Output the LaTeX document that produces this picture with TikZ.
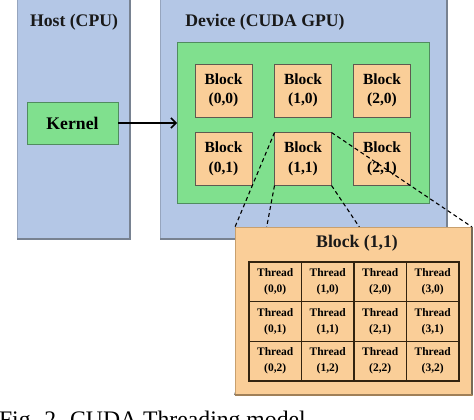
\documentclass[tikz,border=0pt]{standalone}
\usepackage{fontspec}
\setmainfont{Liberation Serif}
\usetikzlibrary{arrows.meta}
\pgfdeclarelayer{back}
\pgfsetlayers{back,main}
\definecolor{panelblue}{RGB}{180,199,230}
\definecolor{panelshadow}{RGB}{120,130,145}
\definecolor{panelborder}{RGB}{150,165,190}
\definecolor{gridgreen}{RGB}{128,224,142}
\definecolor{greenborder}{RGB}{80,140,95}
\definecolor{blockorange}{RGB}{250,206,152}
\definecolor{blockborder}{RGB}{95,90,80}
\definecolor{bigborder}{RGB}{200,160,110}
\definecolor{bigshadow}{RGB}{120,105,85}
\definecolor{threadline}{RGB}{50,35,15}
\begin{document}
\begin{tikzpicture}[x=1pt,y=-1pt,
  every node/.style={inner sep=0pt, outer sep=0pt},
  panel/.style={rectangle, fill=panelblue, draw=panelborder, line width=0.6pt},
  shadowline/.style={draw=panelshadow, line width=1.6pt},
  title/.style={font=\fontsize{17.7}{20}\selectfont\bfseries, text=black!90},
  greenbox/.style={rectangle, fill=gridgreen, draw=greenborder, line width=0.8pt},
  blockbox/.style={rectangle, fill=blockorange, draw=blockborder, line width=0.8pt,
    minimum width=57pt, minimum height=53pt, align=center,
    font=\fontsize{15.5}{19.5}\selectfont\bfseries},
  bigbox/.style={rectangle, fill=blockorange, draw=bigborder, line width=0.8pt},
  threadbox/.style={rectangle, draw=threadline, line width=1.2pt, align=center,
    minimum width=52.5pt, minimum height=39.67pt,
    font=\fontsize{11.5}{16}\selectfont\bfseries},
  zoomline/.style={draw=black, line width=1.1pt, dash pattern=on 4pt off 3pt},
  callarrow/.style={draw=black, line width=1.5pt, -{Straight Barb[length=5pt,width=10pt]}}
]
\useasboundingbox (0,0) rectangle (474,420);
\clip (0,0) rectangle (474,420);

\begin{pgfonlayer}{back}
% panels
\node[panel, minimum width=113pt, minimum height=244pt] (host) at (73.5,117) {};
\draw[shadowline] (host.north east) -- (host.south east) -- (host.south west);
\node[panel, minimum width=287pt, minimum height=244pt] (device) at (303.5,117) {};
\draw[shadowline] (device.north east) -- (device.south east) -- (device.south west);
\node[title] (hostlabel) at (74,22) {Host (CPU)};
\node[title] (devlabel) at (265,22) {Device (CUDA GPU)};
% grid of blocks
\node[greenbox, minimum width=252pt, minimum height=161pt] (grid) at (303,122.5) {};
\node[greenbox, minimum width=91pt, minimum height=42pt,
  font=\fontsize{17.7}{20}\selectfont\bfseries] (kernel) at (72.5,123) {Kernel};
\draw[callarrow] (kernel.east) -- (kernel.east -| grid.west);
\node[blockbox] (b00) at (223.5,90.5) {Block\\(0,0)};
\node[blockbox] (b10) at (303,90.5) {Block\\(1,0)};
\node[blockbox] (b20) at (382,90.5) {Block\\(2,0)};
\node[blockbox] (b01) at (223.5,159) {Block\\(0,1)};
\node[blockbox] (b11) at (303,159) {Block\\(1,1)};
\node[blockbox] (b21) at (382,159) {Block\\(2,1)};
\end{pgfonlayer}

% expanded block
\node[bigbox, minimum width=237pt, minimum height=168pt] (big) at (353.5,311) {};
\draw[draw=bigshadow, line width=1.4pt] (big.north east) -- (big.south east);
\draw[draw=bigborder!80!black, line width=1.2pt] (big.south west) -- (big.south east);
\node[title] (bigtitle) at (357,243) {Block (1,1)};
\foreach \i/\x in {0/275.25,1/327.75,2/380.25,3/432.75}{
  \foreach \j/\y in {0/281.83,1/321.5,2/361.17}{
    \node[threadbox] (t\i\j) at (\x,\y) {Thread\\(\i,\j)};
  }
}

\begin{pgfonlayer}{back}
\draw[zoomline] (b11.north west) -- (big.north west);
\draw[zoomline] (b11.north east) -- (big.north east);
\draw[zoomline] (b11.south west) -- (big.south west);
\draw[zoomline] (b11.south east) -- (big.south east);
\end{pgfonlayer}

\node[anchor=base west, font=\fontsize{23.7}{26}\selectfont] (caption) at (-1,427.5)
  {Fig. 2. CUDA Threading model.};
\end{tikzpicture}
\end{document}
